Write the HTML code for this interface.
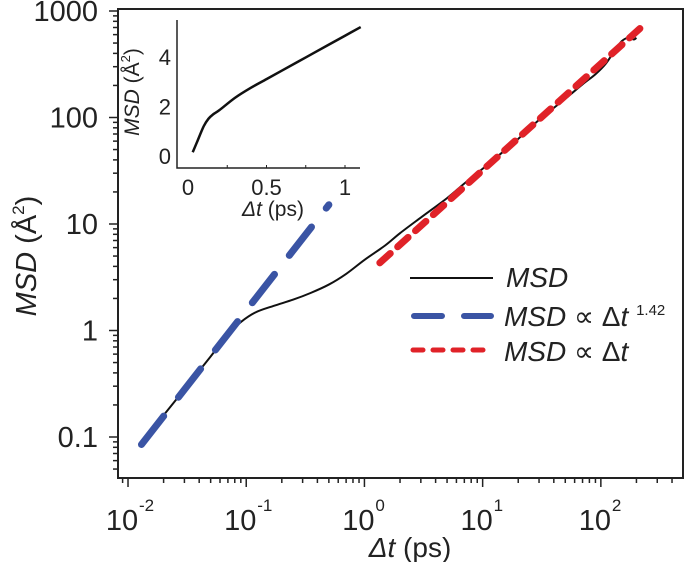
<!DOCTYPE html>
<html><head><meta charset="utf-8"><style>
body{margin:0;background:#fff;}
svg{display:block;font-family:"Liberation Sans",sans-serif;}
</style></head><body>
<svg id="chart" width="685" height="562" xmlns="http://www.w3.org/2000/svg"></svg>
<script>
const mainT = [0.02,0.03,0.05,0.07,0.09,0.12,0.17,0.25,0.35,0.5,0.7,1,1.5,2,3,5,7,10,15,20,30,50,70,90,110,130,150,170,190,200];
const mainMSD = [0.16,0.28,0.57,0.92,1.2,1.48,1.7,1.95,2.25,2.7,3.4,4.6,6.3,8.2,11.5,17.5,24,33,48,63,95,150,205,255,320,420,520,560,540,560];
const powT = [0.013,0.5];
const linT = [1.35,245];
const powExp = 1.42, powC = 0.085/Math.pow(0.013,1.42);
const linC = 3.2;
const insetT = [0.03,0.06,0.1,0.13,0.16,0.2,0.3,0.4,0.5,0.6,0.7,0.8,0.9,1.0,1.1];
const insetMSD = [0.15,0.6,1.2,1.5,1.68,1.85,2.35,2.75,3.1,3.45,3.8,4.15,4.5,4.85,5.2];
const xTicks = [-2,-1,0,1,2];
const yTicks = [-1,0,1,2,3];
const yTickLabels = ["0.1","1","10","100","1000"];
const insetXTicks = [0,0.5,1], insetXLabels=["0","0.5","1"];
const insetYTicks = [0,2,4];

const NS="http://www.w3.org/2000/svg", svg=document.getElementById('chart');
function mk(tag,attrs,parent){const e=document.createElementNS(NS,tag);for(const k in attrs)e.setAttribute(k,attrs[k]);(parent||svg).appendChild(e);return e;}
const L=118,R=683,T=9,B=478;
const xl0=-2-(128-L)/118, xl1=2+(R-601)/118;
const yl0=-1-(B-437)/106.5, yl1=3+(11-T)/106.5;
const X=v=>L+(Math.log10(v)-xl0)/(xl1-xl0)*(R-L);
const Y=v=>B-(Math.log10(v)-yl0)/(yl1-yl0)*(B-T);
function smooth(pts){let d=`M${pts[0][0]},${pts[0][1]}`;for(let i=0;i<pts.length-1;i++){const p0=pts[Math.max(0,i-1)],p1=pts[i],p2=pts[i+1],p3=pts[Math.min(pts.length-1,i+2)];d+=` C${p1[0]+(p2[0]-p0[0])/6},${p1[1]+(p2[1]-p0[1])/6} ${p2[0]-(p3[0]-p1[0])/6},${p2[1]-(p3[1]-p1[1])/6} ${p2[0]},${p2[1]}`;}return d;}

const fr=mk('rect',{x:L,y:T,width:R-L,height:B-T,fill:'none',stroke:'#222','stroke-width':2});

xTicks.forEach(d=>{for(let m=1;m<10;m++){const v=m*Math.pow(10,d);const x=X(v);if(x<L||x>R)continue;mk('line',{x1:x,x2:x,y1:B,y2:B+(m==1?9:5),stroke:'#222','stroke-width':1.5});}
 const x=X(Math.pow(10,d));const t=mk('text',{x:x-6,y:530,'font-size':29,'text-anchor':'middle',fill:'#222'});t.textContent='10';
 
 const s=mk('text',{x:x+11,y:511,'font-size':17,fill:'#222'});s.textContent=String(d);});
[0.009].forEach(v=>{const x=X(v);if(x>L)mk('line',{x1:x,x2:x,y1:B,y2:B+5,stroke:'#222','stroke-width':1.5});});
yTicks.forEach((d,i)=>{for(let m=1;m<10;m++){const v=m*Math.pow(10,d);const y=Y(v);if(y<T||y>B)continue;mk('line',{x1:L,x2:L-(m==1?9:5),y1:y,y2:y,stroke:'#222','stroke-width':1.5});}
 const y=Y(Math.pow(10,d));const t=mk('text',{x:98,y:y+10,'font-size':29,'text-anchor':'end',fill:'#222'});t.textContent=yTickLabels[i];
 });
for(let m=5;m<10;m++){const y=Y(m*0.01);if(y<B)mk('line',{x1:L,x2:L-5,y1:y,y2:y,stroke:'#222','stroke-width':1.5});}
const xt=mk('text',{x:410,y:557,'font-size':28,'text-anchor':'middle',fill:'#222'});
xt.innerHTML='<tspan font-style="italic">Δt</tspan> (ps)';

const yt=mk('text',{x:0,y:0,'font-size':29,'text-anchor':'middle',fill:'#222',transform:'translate(36,256) rotate(-90)'});
yt.innerHTML='<tspan font-style="italic">MSD</tspan> (Å<tspan font-size="17" dy="-12">2</tspan><tspan dy="12">)</tspan>';


const mp=mk('path',{d:smooth(mainT.map((t,i)=>[X(t),Y(mainMSD[i])])),fill:'none',stroke:'#111','stroke-width':2});

const bp=mk('line',{x1:X(powT[0]),y1:Y(powC*Math.pow(powT[0],powExp)),x2:X(powT[1]),y2:Y(powC*Math.pow(powT[1],powExp)),stroke:'#3a54a4','stroke-width':7,'stroke-dasharray':'36 24','stroke-linecap':'round'});

const rp=mk('line',{x1:X(linT[0]),y1:Y(linC*linT[0]),x2:X(linT[1]),y2:Y(linC*linT[1]),stroke:'#e02228','stroke-width':7,'stroke-dasharray':'14 10','stroke-linecap':'round'});


const lg=mk('g',{});
mk('line',{x1:410,x2:493,y1:278,y2:278,stroke:'#111','stroke-width':2},lg);
mk('line',{x1:414,x2:491,y1:316,y2:316,stroke:'#3a54a4','stroke-width':6,'stroke-dasharray':'28 22','stroke-linecap':'round'},lg);
mk('line',{x1:413,x2:491,y1:350,y2:350,stroke:'#e02228','stroke-width':5,'stroke-dasharray':'10 10','stroke-linecap':'round'},lg);
const l1=mk('text',{x:506,y:287,'font-size':28,'font-style':'italic',fill:'#222'},lg);l1.textContent='MSD';
const l2=mk('text',{x:504,y:326,'font-size':28,fill:'#222'},lg);l2.innerHTML='<tspan font-style="italic">MSD</tspan> ∝ Δ<tspan font-style="italic">t</tspan> <tspan font-size="15" dy="-11">1.42</tspan>';
const l3=mk('text',{x:504,y:361,'font-size':28,fill:'#222'},lg);l3.innerHTML='<tspan font-style="italic">MSD</tspan> ∝ Δ<tspan font-style="italic">t</tspan>';

const IL=177,IB=168,IR=360,IT=20;
const IX=v=>188+v*157, IY=v=>156-v*24.8;
const ig=mk('g',{});
mk('path',{d:`M${IL},${IT} V${IB} H${IR}`,fill:'none',stroke:'#222','stroke-width':1.5},ig);
[0.25,0.5,0.75,1].forEach(v=>mk('line',{x1:IX(v),x2:IX(v),y1:IB,y2:IB-3,stroke:'#222','stroke-width':1},ig));
insetXTicks.forEach((v,i)=>{const t=mk('text',{x:IX(v),y:195,'font-size':22,'text-anchor':'middle',fill:'#222'},ig);t.textContent=insetXLabels[i];});
insetYTicks.forEach(v=>{const t=mk('text',{x:171,y:IY(v)+8,'font-size':22,'text-anchor':'end',fill:'#222'},ig);t.textContent=String(v);});
const ixt=mk('text',{x:273,y:216,'font-size':21,'text-anchor':'middle',fill:'#222'},ig);ixt.innerHTML='<tspan font-style="italic">Δt</tspan> (ps)';
const iyt=mk('text',{x:0,y:0,'font-size':21,'text-anchor':'middle',fill:'#222',transform:'translate(139,92) rotate(-90)'},ig);
iyt.innerHTML='<tspan font-style="italic">MSD</tspan> (Å<tspan font-size="13" dy="-9">2</tspan><tspan dy="9">)</tspan>';
const ip=mk('path',{d:smooth(insetT.map((t,i)=>[IX(t),IY(insetMSD[i])])),fill:'none',stroke:'#111','stroke-width':2.5},ig);

</script>
</body></html>
